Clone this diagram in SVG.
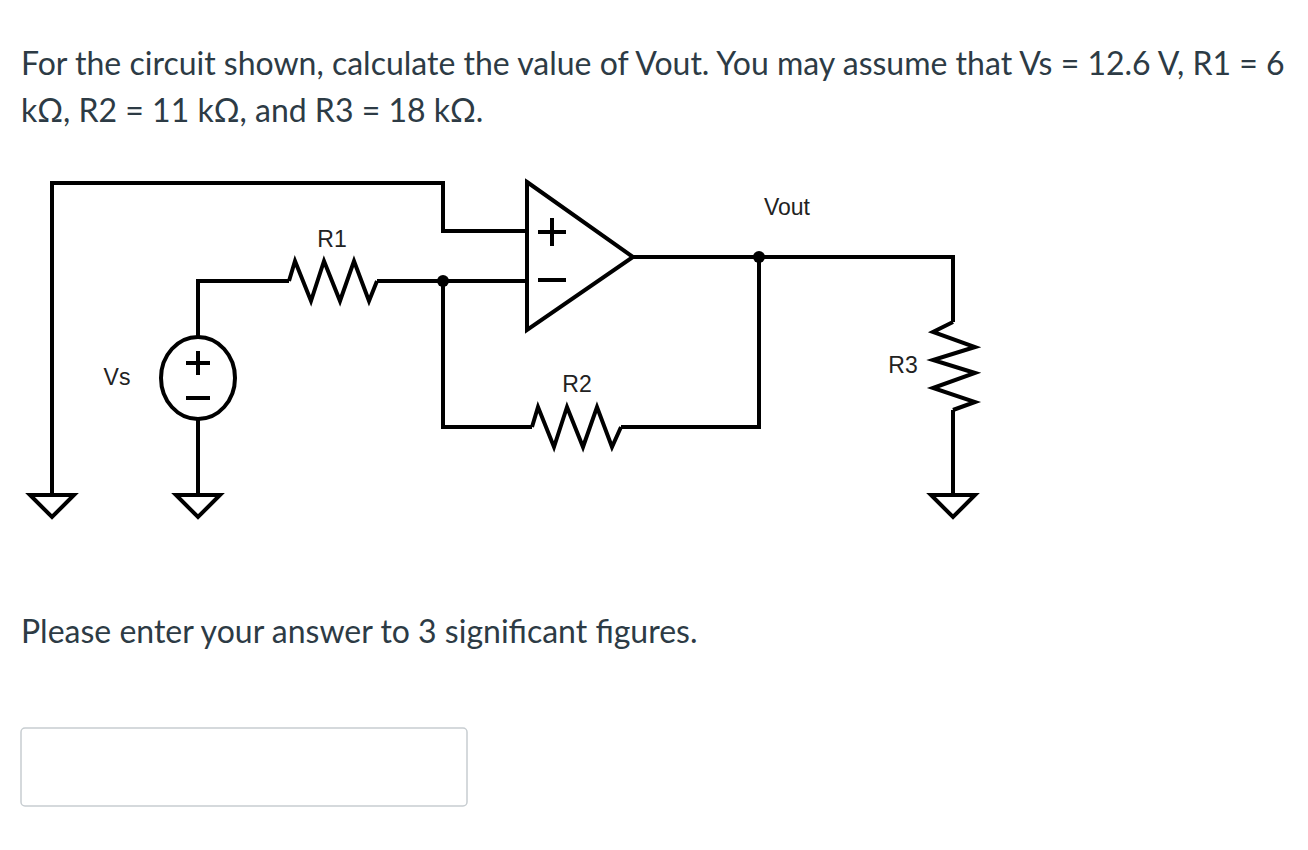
<svg xmlns="http://www.w3.org/2000/svg" width="1308" height="850" viewBox="0 0 1308 850">
<style>
.q{font-family:Lato,"Liberation Sans",sans-serif;font-size:32px;fill:#2d3b45}
.l{font-family:"Liberation Sans",Arial,sans-serif;font-size:23px;fill:#222}
.w{fill:none;stroke:#000;stroke-width:4;stroke-linejoin:miter}
</style>
<rect width="1308" height="850" fill="#fff"/>
<text class="q" x="21" y="75">For the circuit shown, calculate the value of Vout. You may assume that Vs = 12.6 V, R1 = 6</text>
<text class="q" x="21" y="122">kΩ, R2 = 11 kΩ, and R3 = 18 kΩ.</text>
<text class="q" x="21" y="643">Please enter your answer to 3 significant figures.</text>
<rect x="21" y="728" width="446" height="78" rx="4" fill="#fff" stroke="#c7cdd1" stroke-width="1.5"/>
<g id="connectors">
<path class="w" d="M52 495V183H443V231H527"/>
<path class="w" d="M198 337V281H289"/>
<path class="w" d="M377 281H527"/>
<path class="w" d="M443 281V427H532"/>
<path class="w" d="M621 427H759V257"/>
<path class="w" d="M633 257H953V322"/>
<path class="w" d="M953 410V495"/>
<path class="w" d="M198 420V495"/>
<circle cx="443" cy="281" r="6"/>
<circle cx="759" cy="257" r="6"/>
</g>
<g id="opamp">
<path class="w" d="M527 182L633 257L527 330Z"/>
<path class="w" d="M538 232H566M552 218V246M538 280H566"/>
</g>
<g id="R1">
<path class="w" d="M289 281L295 261L311 301L324 261L340 301L354 261L369 301L377 281"/>
<text class="l" x="332" y="247" text-anchor="middle">R1</text>
</g>
<g id="R2">
<path class="w" d="M532 427L538 407L554 447L567 407L583 447L597 407L612 447L621 427"/>
<text class="l" x="577" y="392" text-anchor="middle">R2</text>
</g>
<g id="R3">
<path class="w" d="M953 322L933 332L975 347L933 360L975 373L933 388L975 402L953 410"/>
<text class="l" x="903" y="373" text-anchor="middle">R3</text>
</g>
<g id="Vs">
<ellipse class="w" cx="198" cy="378" rx="37" ry="41"/>
<path class="w" d="M186 363H210M198 351V375M186 398H210"/>
<text class="l" x="117" y="385" text-anchor="middle">Vs</text>
</g>
<text class="l" x="787" y="215" text-anchor="middle">Vout</text>
<g id="gnd1"><path class="w" d="M30 495H74L52 517Z"/></g>
<g id="gnd2"><path class="w" d="M176 495H220L198 517Z"/></g>
<g id="gnd3"><path class="w" d="M931 495H975L953 517Z"/></g>
</svg>
